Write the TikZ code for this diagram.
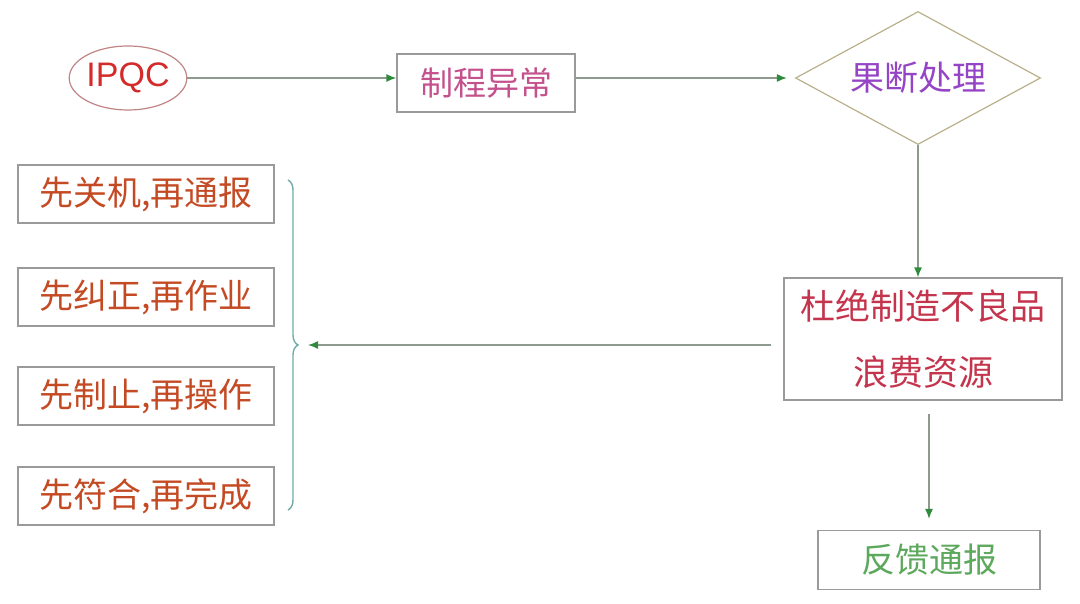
\documentclass[tikz,border=0pt]{standalone}
\usepackage{fontspec}
\setmainfont{Liberation Sans}
\newfontfamily\cjk{Noto Sans CJK SC}
\usetikzlibrary{arrows.meta, shapes.geometric, decorations.pathreplacing}

\definecolor{linegray}{HTML}{8E9A8E}
\definecolor{boxgray}{HTML}{9A9A9A}
\definecolor{tipgreen}{HTML}{2E8B3C}
\definecolor{ipqcred}{HTML}{D42A2A}
\definecolor{ellred}{HTML}{C08484}
\definecolor{procpink}{HTML}{C4508C}
\definecolor{decpurple}{HTML}{9444C4}
\definecolor{diatan}{HTML}{B8B08A}
\definecolor{stepred}{HTML}{C44A24}
\definecolor{wastered}{HTML}{C4344C}
\definecolor{feedgreen}{HTML}{5CA85C}
\definecolor{braceteal}{HTML}{72AAAA}

\begin{document}
\begin{tikzpicture}[x=0.5pt, y=-0.5pt,
  box/.style={draw=boxgray, line width=0.6pt, inner sep=0pt, font=\cjk\fontsize{16.5}{18}\selectfont},
  stepbox/.style={box, minimum width=128pt, minimum height=29pt, text=stepred, font=\cjk\fontsize{17}{20}\selectfont},
  arr/.style={draw=linegray, line width=0.7pt, -{Latex[length=5pt, width=4pt, color=tipgreen]}}]
  \useasboundingbox (0,0) rectangle (1080,604);

  \node[ellipse, draw=ellred, line width=0.6pt, minimum width=56pt, minimum height=32pt, inner sep=0pt,
        text=ipqcred, font=\fontsize{17}{20}\selectfont] (ipqc) at (128,78) {IPQC};
  \node[box, minimum width=89pt, minimum height=29pt, text=procpink] (proc) at (486,83) {制程异常};
  \node[diamond, draw=diatan, line width=0.6pt, aspect=1.85, minimum width=122.5pt, minimum height=66.5pt, inner sep=0pt,
        text=decpurple, font=\cjk\fontsize{17}{20}\selectfont] (decide) at (918,78) {果断处理};

  \node[box, minimum width=139pt, minimum height=61pt, align=center, text=wastered,
        font=\cjk\fontsize{17.5}{33}\selectfont] (waste) at (923,339) {杜绝制造不良品\\浪费资源};
  \node[box, minimum width=111pt, minimum height=29.5pt, text=feedgreen,
        font=\cjk\fontsize{17}{20}\selectfont] (feed) at (929,560) {反馈通报};

  % left column
  \node[stepbox] (s1) at (146,194) {先关机,再通报};
  \node[stepbox] (s2) at (146,297) {先纠正,再作业};
  \node[stepbox] (s3) at (146,396) {先制止,再操作};
  \node[stepbox] (s4) at (146,496) {先符合,再完成};

  \coordinate (brtop) at (288,180);
  \coordinate (brbot) at (288,510);
  \coordinate (brtip) at (298,345);
  \draw[braceteal, line width=0.7pt, decorate, decoration={brace, amplitude=5pt}] (brtop) -- (brbot);

  \draw[arr] (ipqc.east) -- (ipqc.east -| proc.west);
  \draw[arr, shorten >=4pt] (proc.east |- decide.west) -- (decide.west);
  \draw[arr] (decide.south) -- (decide.south |- waste.north);
  \draw[arr, shorten <=6pt, shorten >=5pt] (waste.west |- brtip) -- (brtip);
  \draw[arr, shorten <=6.5pt, shorten >=5.5pt] (waste.south -| feed.north) -- (feed.north);
\end{tikzpicture}
\end{document}
